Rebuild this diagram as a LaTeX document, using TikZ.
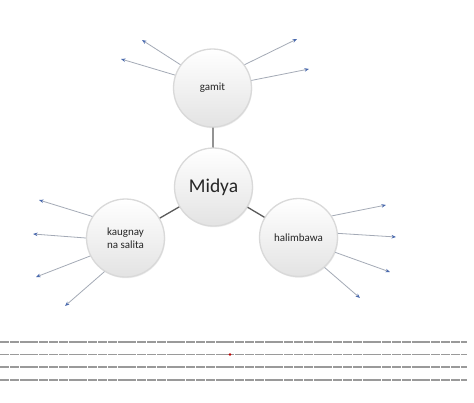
\documentclass[tikz,border=0pt]{standalone}
\usepackage{fontspec}
\setmainfont{Carlito}
\usetikzlibrary{arrows.meta,shadows}
\definecolor{arrowblue}{HTML}{4A6AAE}
\definecolor{armline}{HTML}{A4AAB6}
\definecolor{linkgray}{HTML}{5A5A5A}
\definecolor{rulegray}{HTML}{9A9A9A}
\tikzset{
  bubble/.style={circle, minimum size=78pt, inner sep=0pt, draw=gray!30, line width=1.3pt,
    top color=white, bottom color=gray!22, drop shadow={opacity=0.15, shadow xshift=0.6pt, shadow yshift=-1.2pt},
    text=black!85, font=\fontsize{11}{13.5}\selectfont, align=center},
  arm/.style={draw=armline, line width=0.8pt, -{Stealth[color=arrowblue, fill=arrowblue, length=4.5pt, width=3.5pt]}},
  link/.style={draw=linkgray, line width=1.3pt},
  rulerow/.style={draw=rulegray, line width=1.2pt, dash pattern=on 9pt off 0.8pt}
}
\begin{document}
\begin{tikzpicture}[x=1pt,y=-1pt]
\useasboundingbox[fill=white] (0,0) rectangle (474,402);
% branch end points
\coordinate (g1) at (142,40);
\coordinate (g2) at (121,59);
\coordinate (g3) at (297,39);
\coordinate (g4) at (309,69);
\coordinate (k1) at (39,200);
\coordinate (k2) at (33,234);
\coordinate (k3) at (36,277);
\coordinate (k4) at (65,306);
\coordinate (h1) at (386,205);
\coordinate (h2) at (396,237);
\coordinate (h3) at (390,272);
\coordinate (h4) at (360,298);
% bubbles
\node[bubble] (gamit) at (212.5,88) {gamit};
\node[bubble, font=\fontsize{19.5}{22}\selectfont] (midya) at (213.5,187) {Midya};
\node[bubble] (kaug) at (125.5,238) {kaugnay\\na salita};
\node[bubble] (hal) at (298.5,237.5) {halimbawa};
% links
\draw[link] (gamit) -- (midya);
\draw[link] (midya) -- (kaug);
\draw[link] (midya) -- (hal);
% arms
\draw[arm] (gamit.144) -- (g1);
\draw[arm] (gamit.161) -- (g2);
\draw[arm] (gamit.36) -- (g3);
\draw[arm] (gamit.11) -- (g4);
\draw[arm] (kaug.147) -- (k1);
\draw[arm] (kaug.180) -- (k2);
\draw[arm] (kaug.207) -- (k3);
\draw[arm] (kaug.238) -- (k4);
\draw[arm] (hal.33) -- (h1);
\draw[arm] (hal.6) -- (h2);
\draw[arm] (hal.-22) -- (h3);
\draw[arm] (hal.-49) -- (h4);
% ruled lines
\coordinate (r1a) at (0,342); \coordinate (r1b) at (467,342);
\coordinate (r2a) at (0,354.5); \coordinate (r2b) at (467,354.5);
\coordinate (r3a) at (0,367); \coordinate (r3b) at (467,367);
\coordinate (r4a) at (0,380); \coordinate (r4b) at (467,380);
\draw[rulerow] (r1a) -- (r1b);
\draw[rulerow] (r2a) -- (r2b);
\draw[rulerow] (r3a) -- (r3b);
\draw[rulerow] (r4a) -- (r4b);
\coordinate (dot) at (230,354.5);
\fill[red!75!black] (dot) circle (1.3pt);
\end{tikzpicture}
\end{document}
